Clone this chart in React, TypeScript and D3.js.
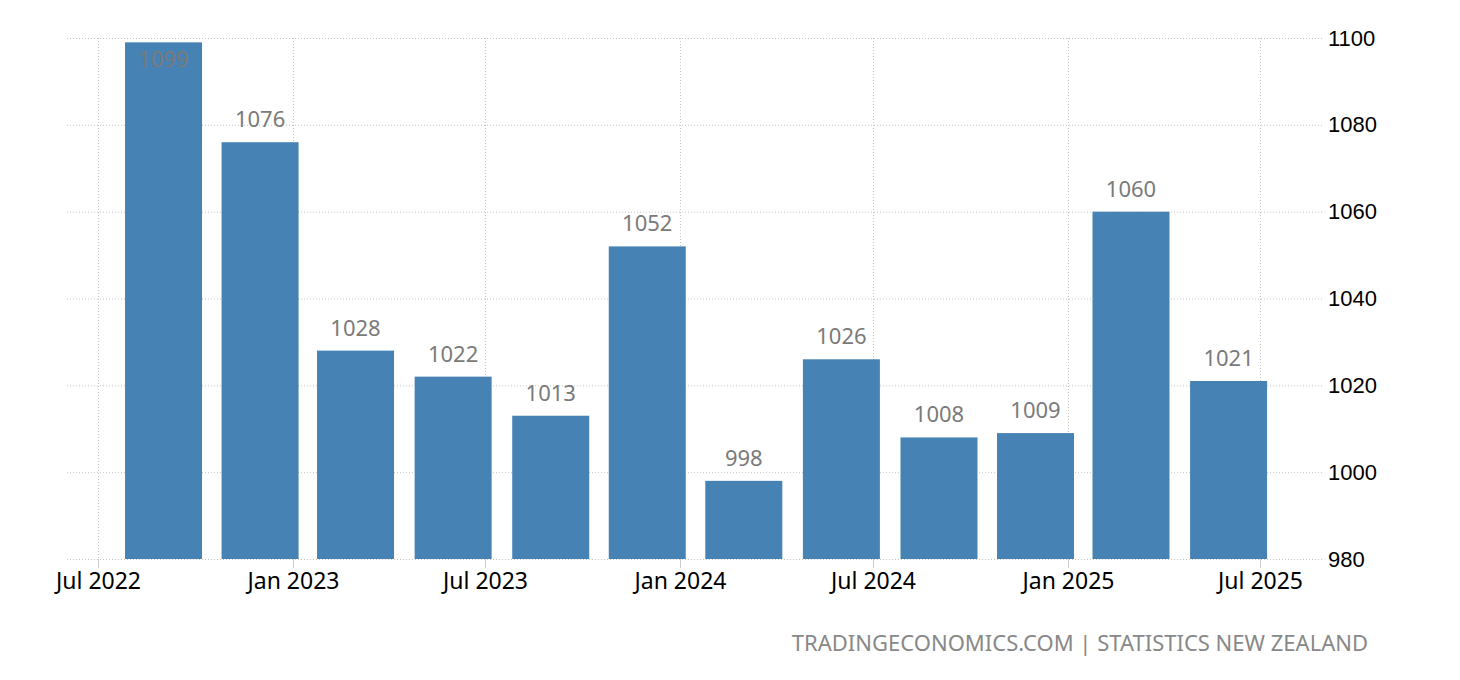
import { useRef, useEffect } from "react";
import * as d3 from "d3";

const quarterDates = [
  "2022-09-01", "2022-12-01", "2023-03-01", "2023-06-01",
  "2023-09-01", "2023-12-01", "2024-03-01", "2024-06-01",
  "2024-09-01", "2024-12-01", "2025-03-01", "2025-06-01",
];
const values = [1099, 1076, 1028, 1022, 1013, 1052, 998, 1026, 1008, 1009, 1060, 1021];
const yTicks = [980, 1000, 1020, 1040, 1060, 1080, 1100];
const xTickDates = ["2022-07-01", "2023-01-01", "2023-07-01", "2024-01-01", "2024-07-01", "2025-01-01", "2025-07-01"];
const footer = "TRADINGECONOMICS.COM | STATISTICS NEW ZEALAND";

export default function App() {
  const svgRef = useRef<SVGSVGElement>(null);

  useEffect(() => {
    document.body.style.margin = "0";
    if (!svgRef.current) return;
    const svg = d3.select(svgRef.current);
    svg.selectAll("*").remove();

    const width = 1460;
    const height = 680;
    const left = 67, right = 1323, top = 38, bottom = 559;
    const parse = d3.utcParse("%Y-%m-%d");

    const x = d3.scaleUtc()
      .domain([parse("2022-06-02")!, parse("2025-08-29")!])
      .range([left, right]);
    const y = d3.scaleLinear().domain([980, 1100]).range([bottom, top]);

    svg.attr("width", width).attr("height", height);

    const grid = svg.append("g");
    yTicks.forEach((t) => {
      grid.append("line")
        .attr("x1", left).attr("x2", right)
        .attr("y1", y(t) + 0.5).attr("y2", y(t) + 0.5)
        .attr("stroke", "#c4c4c4").attr("stroke-dasharray", "1,2");
    });
    xTickDates.forEach((d) => {
      const xx = Math.round(x(parse(d)!)) + 0.5;
      grid.append("line")
        .attr("x1", xx).attr("x2", xx)
        .attr("y1", top).attr("y2", bottom)
        .attr("stroke", "#c4c4c4").attr("stroke-dasharray", "1,2");
      grid.append("line")
        .attr("x1", xx).attr("x2", xx)
        .attr("y1", bottom).attr("y2", bottom + 9)
        .attr("stroke", "#cccccc");
      svg.append("text")
        .attr("x", xx).attr("y", 589)
        .attr("text-anchor", "middle")
        .attr("font-family", "'Noto Sans', sans-serif")
        .attr("font-size", 23)
        .attr("fill", "#000")
        .text(d3.utcFormat("%b %Y")(parse(d)!));
    });

    yTicks.forEach((t) => {
      svg.append("text")
        .attr("x", 1328).attr("y", y(t))
        .attr("dominant-baseline", "central")
        .attr("font-family", "'Liberation Sans', Arial, sans-serif")
        .attr("font-size", 22)
        .attr("fill", "#000")
        .text(t);
    });

    const dates = quarterDates.map((d) => parse(d)!);
    const bw = 77;
    dates.forEach((d, i) => {
      const cx = x(d);
      svg.append("rect")
        .attr("x", cx - bw / 2)
        .attr("y", y(values[i]))
        .attr("width", bw)
        .attr("height", bottom - y(values[i]))
        .attr("fill", "#4682b4");
      svg.append("text")
        .attr("x", cx)
        .attr("y", Math.max(y(values[i]) - 15, top + 29))
        .attr("text-anchor", "middle")
        .attr("font-family", "'Noto Sans', sans-serif")
        .attr("font-size", 22)
        .attr("fill", "#7a7a7a")
        .text(values[i]);
    });

    svg.append("text")
      .attr("x", 1368).attr("y", 651)
      .attr("text-anchor", "end")
      .attr("font-family", "'Noto Sans', sans-serif")
      .attr("font-size", 22)
      .attr("fill", "#888888")
      .text(footer);
  }, []);

  return <svg ref={svgRef} style={{ display: "block" }} />;
}
